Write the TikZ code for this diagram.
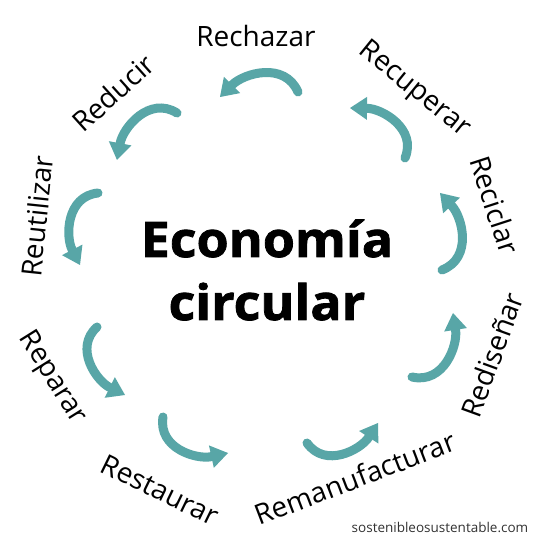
\documentclass[tikz,border=0pt]{standalone}
\usepackage{fontspec}
\setmainfont{Open Sans}
\newfontfamily\heavyfont{Open Sans}[BoldFeatures={FakeBold=1.6,FakeStretch=1.06}]
\usetikzlibrary{arrows.meta}
\definecolor{teal1}{RGB}{88,166,167}
\definecolor{wm}{RGB}{50,50,50}
\tikzset{
  cyc/.style={draw=teal1, line width=9pt, line cap=round,
    -{Triangle[width=23pt,length=17pt,line width=0pt]}},
  lbl/.style={inner sep=0pt, font=\fontsize{28}{30}\selectfont},
  center/.style={inner sep=0pt, anchor=base, font=\fontsize{49}{52}\selectfont\heavyfont\bfseries},
  wmark/.style={inner sep=0pt, text=wm, font=\fontsize{13.5}{15}\selectfont}
}
\begin{document}
\begin{tikzpicture}[x=1pt,y=1pt]
\useasboundingbox (0,0) rectangle (550,550);
\fill[white] (0,0) rectangle (550,550);
% arrows
\foreach \i/\tx/\ty/\hx/\hy/\d in {
  1/298/458/220/453/0,
  2/177/437/117/390/34.4,
  3/98/357/80/285/72.3,
  4/97/223/125/155/108.7,
  5/163/133/228/97/147.3,
  6/307/107/378/127/192.0,
  7/412/173/453/237/233.7,
  8/442/280/440/357/267.8,
  9/405/392/350/442/314.0}{
  \coordinate (t\i) at (\tx,\ty);
  \coordinate (h\i) at (\hx,\hy);
  \pgfmathsetmacro\oa{113.5+\d}
  \pgfmathsetmacro\ia{45+\d}
  \draw[cyc] (t\i) to[out=\oa, in=\ia, looseness=1.1] (h\i);
}
% labels
\node[lbl] (rechazar) at (256,514) {Rechazar};
\node[lbl, rotate=-39] (recuperar) at (414,460) {Recuperar};
\node[lbl, rotate=-72] (reciclar) at (495,345) {Reciclar};
\node[lbl, rotate=70] (redisenar) at (492,195) {Rediseñar};
\node[lbl, rotate=21] (reman) at (355,72) {Remanufacturar};
\node[lbl, rotate=-26] (restaurar) at (160,60) {Restaurar};
\node[lbl, rotate=-58] (reparar) at (52,172) {Reparar};
\node[lbl, rotate=84] (reutilizar) at (37,334) {Reutilizar};
\node[lbl, rotate=42] (reducir) at (113,457) {Reducir};
% centre
\node[center] (eco) at (267,293) {Economía};
\node[center] (circ) at (267,230) {circular};
% watermark
\node[wmark] (web) at (440,23) {sostenibleosustentable.com};
\end{tikzpicture}
\end{document}
